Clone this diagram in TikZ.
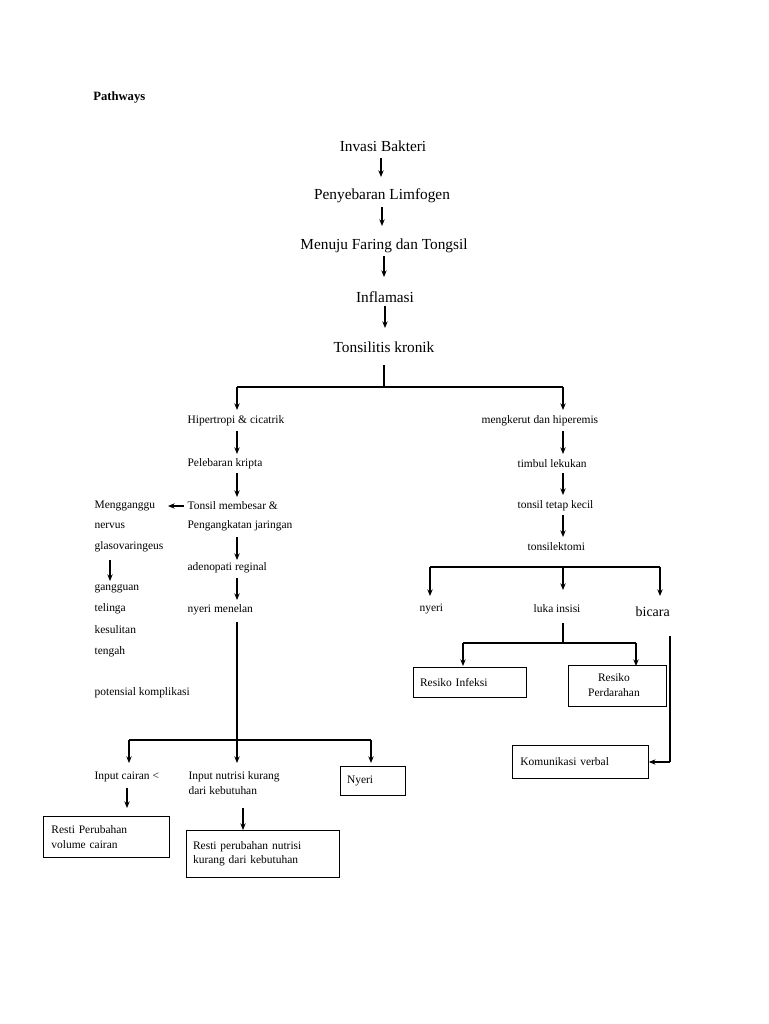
\documentclass[tikz,border=0pt]{standalone}
\usepackage{fontspec}
\setmainfont{Liberation Serif}
\usetikzlibrary{arrows.meta}
\begin{document}
\begin{tikzpicture}[x=0.75pt,y=-0.75pt,
  big/.style={inner sep=1pt,font=\fontsize{11.5}{13}\selectfont},
  sm/.style={inner sep=1pt,anchor=west,font=\fontsize{8.6}{10}\selectfont},
  box/.style={draw,line width=0.6pt,anchor=north west,align=left,inner sep=0pt,font=\fontsize{8.6}{11}\selectfont},
  ar/.style={-{Stealth[length=5pt,width=4pt]},line width=0.8pt},
  ln/.style={line width=0.8pt}]
\useasboundingbox (0,0) rectangle (768,1024);
\node[inner sep=0,anchor=west,font=\bfseries\fontsize{9.5}{11}\selectfont] (pw) at (93,97) {Pathways};
\node[big] (a1) at (383,146) {Invasi Bakteri};
\node[big] (a2) at (382,196) {Penyebaran Limfogen};
\node[big] (a3) at (384,246) {Menuju Faring dan Tongsil};
\node[big] (a4) at (385,297) {Inflamasi};
\node[big] (a5) at (384,347) {Tonsilitis kronik};
\draw[ar] (381,158) -- (381,177);
\draw[ar] (382,207) -- (382,226);
\draw[ar] (384,256) -- (384,277);
\draw[ar] (385,306) -- (385,328);
% split
\coordinate (j1) at (384,387);
\coordinate (jl) at (237,387);
\coordinate (jr) at (563,387);
\draw[ln] (384,365) -- (j1);
\draw[ln] (jl) -- (jr);
% left
\node[sm] (l1) at (186,421) {Hipertropi \& cicatrik};
\node[sm] (l2) at (186,464) {Pelebaran kripta};
\node[sm] (l3) at (186,506) {Tonsil membesar \&};
\node[sm] (l3b) at (186,526) {Pengangkatan jaringan};
\node[sm] (l4) at (186,568) {adenopati reginal};
\node[sm] (l5) at (186,610) {nyeri menelan};
\draw[ar] (jl) -- (237,410);
\draw[ar] (237,431) -- (237,454);
\draw[ar] (237,473) -- (237,497);
\draw[ar] (237,537) -- (237,560);
\draw[ar] (237,578) -- (237,600);
\draw[ar] (l3.west) ++(-2,0) -- (168,506);
\node[sm] (m1) at (93,506) {Mengganggu};
\node[sm] (m2) at (93,526) {nervus};
\node[sm] (m3) at (93,547) {glasovaringeus};
\draw[ar] (110,560) -- (110,581);
\node[sm] (m4) at (93,589) {gangguan};
\node[sm] (m5) at (93,609) {telinga};
\node[sm] (m6) at (93,630) {kesulitan};
\node[sm] (m7) at (93,652) {tengah};
\node[sm] (m8) at (93,693) {potensial komplikasi};
\coordinate (j2) at (237,740);
\draw[ln] (237,622) -- (j2);
\draw[ln] (129,740) -- (371,740);
\draw[ar] (129,740) -- (129,763);
\draw[ar] (j2) -- (237,763);
\draw[ar] (371,740) -- (371,763);
\node[sm] (c1) at (93,777) {Input cairan <};
\draw[ar] (127,788) -- (127,808);
\node[box,minimum width=121pt*0.75,minimum height=41pt*0.75,text width=110*0.75pt,inner xsep=6pt] (b1) at (43,816) {Resti Perubahan\\volume cairan};
\node[sm,align=left,anchor=north west,font=\fontsize{8.6}{11}\selectfont] (c2) at (187,770) {Input nutrisi kurang\\dari kebutuhan};
\draw[ar] (243,808) -- (243,830);
\node[box,minimum width=150*0.75pt,minimum height=47*0.75pt,text width=140*0.75pt,inner xsep=5pt] (b2) at (186,830) {Resti perubahan nutrisi\\kurang dari kebutuhan};
\node[box,minimum width=62*0.75pt,minimum height=29*0.75pt,text width=52*0.75pt,inner xsep=5pt] (b3) at (340,766) {Nyeri};
% right
\node[sm] (r1) at (480,421) {mengkerut dan hiperemis};
\node[sm] (r2) at (516,464) {timbul lekukan};
\node[sm] (r3) at (516,506) {tonsil tetap kecil};
\node[sm] (r4) at (526,547) {tonsilektomi};
\draw[ar] (jr) -- (563,410);
\draw[ar] (563,431) -- (563,454);
\draw[ar] (563,473) -- (563,495);
\draw[ar] (563,515) -- (563,537);
\coordinate (j3) at (563,567);
\draw[ln] (430,567) -- (660,567);
\draw[ar] (430,567) -- (430,596);
\draw[ar] (j3) -- (563,590);
\draw[ar] (660,567) -- (660,596);
\node[sm] (n1) at (418,609) {nyeri};
\node[sm] (n2) at (532,609) {luka insisi};
\node[big,anchor=west,font=\fontsize{10.5}{12}\selectfont] (n3) at (634,612) {bicara};
\coordinate (j4) at (563,643);
\draw[ln] (563,623) -- (j4);
\draw[ln] (463,643) -- (636,643);
\draw[ar] (463,643) -- (463,666);
\draw[ar] (636,643) -- (636,666);
\node[box,minimum width=110*0.75pt,minimum height=30*0.75pt,text width=100*0.75pt,inner xsep=5pt] (b4) at (413,667) {Resiko Infeksi};
\node[draw,line width=0.6pt,anchor=north west,inner sep=0,minimum width=98*0.75pt,minimum height=41*0.75pt] (b5) at (568,665) {};
\node[align=center,font=\fontsize{8.6}{11}\selectfont,inner sep=0] (b5t) at (614,685) {Resiko\\Perdarahan};
\node[box,minimum width=130*0.75pt,minimum height=33*0.75pt,text width=120*0.75pt,inner xsep=6pt] (b6) at (512,745) {Komunikasi verbal};
\coordinate (k1) at (670,762);
\draw[ln] (670,636) -- (k1);
\draw[ar] (k1) -- (b6.east |- k1);
\end{tikzpicture}
\end{document}
